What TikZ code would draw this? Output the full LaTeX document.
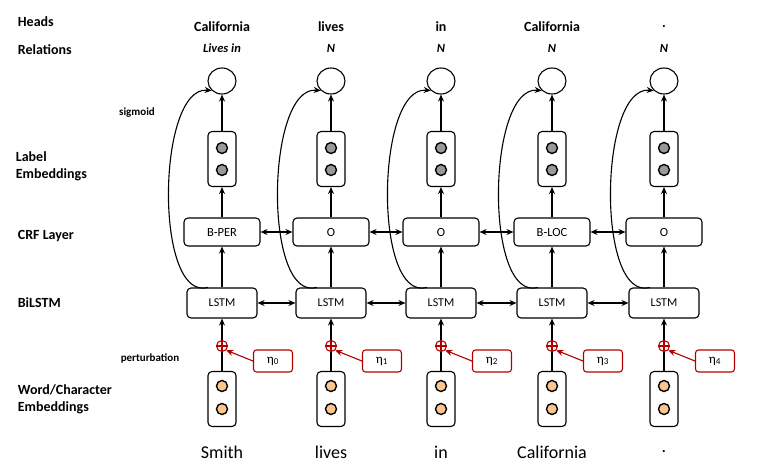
\documentclass[tikz,border=0pt]{standalone}
\usepackage{fontspec}
\setmainfont{Carlito}
\usetikzlibrary{arrows.meta,shapes.geometric}
\begin{document}
\begin{tikzpicture}[x=1pt,y=-1pt,line width=1.1pt,
 lab/.style={font=\fontsize{14}{17}\selectfont\bfseries,anchor=west,align=left},
 oval/.style={draw,ellipse,minimum width=28pt,minimum height=26pt,inner sep=0},
 emb/.style={draw,rounded corners=4pt,minimum width=28pt,minimum height=55pt,inner sep=0},
 crf/.style={draw,rounded corners=4pt,minimum width=76pt,minimum height=28pt,inner sep=0,font=\fontsize{12.5}{15}\selectfont},
 lstm/.style={draw,rounded corners=4pt,minimum width=70pt,minimum height=30pt,inner sep=0,font=\fontsize{12}{15}\selectfont},
 dot/.style={draw,line width=1.4pt,circle,minimum size=11pt,inner sep=0},
 eta/.style={draw=red!70!black,rounded corners=3pt,minimum width=39pt,minimum height=22pt,inner sep=0,font=\fontsize{13}{15}\selectfont},
 ar/.style={-{Stealth[length=7pt,width=6pt]}},
 dar/.style={{Stealth[length=7pt,width=6pt]}-{Stealth[length=7pt,width=6pt]}},
 rar/.style={-{Stealth[length=7pt,width=6pt]},draw=red!70!black}]
\useasboundingbox (0,0) rectangle (763,471);
\node[lab] (lh) at (14,22) {Heads};
\node[lab] (lr) at (14,50) {Relations};
\node[font=\fontsize{11}{13}\selectfont\bfseries] (ls) at (137,113) {sigmoid};
\node[lab] (le) at (12,166) {Label\\Embeddings};
\node[lab] (lc) at (14,236) {CRF Layer};
\node[lab] (lb) at (14,303) {BiLSTM};
\node[font=\fontsize{11}{13}\selectfont\bfseries] (lp) at (150,358) {perturbation};
\node[lab] (lw) at (14,399) {Word/Character\\Embeddings};
\foreach \i/\x/\hd/\rel/\tag/\w in {0/222/California/Lives in/B-PER/Smith,1/331/lives/N/O/lives,2/441/in/N/O/in,3/552/California/N/B-LOC/California,4/664/./N/O/.}{
 \node[font=\fontsize{14}{17}\selectfont\bfseries] (h\i) at (\x,27) {\hd};
 \node[font=\fontsize{12.5}{15}\selectfont\bfseries\itshape] (r\i) at (\x,48) {\rel};
 \node[oval] (o\i) at (\x,81) {};
 \node[emb] (e\i) at (\x,159) {};
 \node[dot,fill=gray!80] (e\i a) at (\x,148) {};
 \node[dot,fill=gray!80] (e\i b) at (\x,170) {};
 \node[crf] (c\i) at (\x,232) {\tag};
 \node[lstm] (l\i) at (\x,303) {LSTM};
 \node[circle,draw=red!70!black,inner sep=0,minimum size=11pt,fill=white] (p\i) at (\x,346) {};
 \draw[red!70!black] (p\i.west)--(p\i.east) (p\i.north)--(p\i.south);
 \node[eta] (n\i) at (\x+51,361) {η\textsubscript{\i}};
 \node[emb] (w\i) at (\x,399) {};
 \node[dot,fill=orange!45] (w\i a) at (\x,386) {};
 \node[dot,fill=orange!45] (w\i b) at (\x,409) {};
 \node[font=\fontsize{18}{21}\selectfont] (t\i) at (\x,452) {\w};
 \draw[ar] (e\i.north)--(o\i.south);
 \draw[ar] (c\i.north)--(e\i.south);
 \draw[ar] (l\i.north)--(c\i.south);
 \draw[ar] (p\i.north)--(l\i.south);
 \draw (w\i.north)--(p\i.south);
 \draw[rar] (n\i.west)--(p\i.south east);
 \draw[ar] ([xshift=-14pt]l\i.north) .. controls ([xshift=-68pt,yshift=-15pt]l\i.north) and ([xshift=-55pt,yshift=5pt]o\i.south west) .. (o\i.south west);
}
\foreach \a/\b in {0/1,1/2,2/3,3/4}{
 \draw[dar] (c\a.east)--(c\b.west);
 \draw[dar] (l\a.east)--(l\b.west);
}
\end{tikzpicture}
\end{document}
